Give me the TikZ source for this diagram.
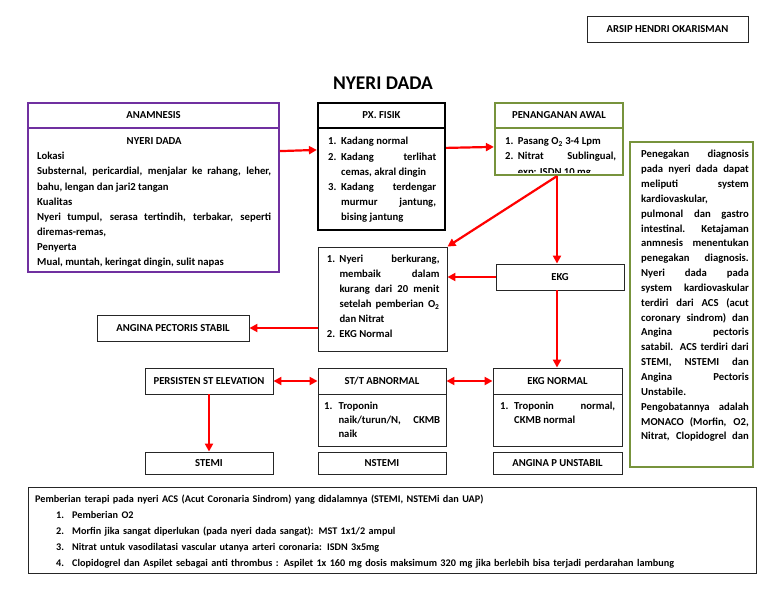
\documentclass[tikz,border=0pt]{standalone}
\usepackage{fontspec}
\setmainfont{Carlito}
\usetikzlibrary{arrows.meta}
\definecolor{purp}{HTML}{7030A0}
\definecolor{grn}{HTML}{77933C}
\definecolor{arred}{HTML}{FF0000}
\setlength{\parindent}{0pt}
\newcommand\bodyfont{\fontsize{10.67}{15.1}\selectfont\bfseries}
\newcommand\infofont{\fontsize{10.67}{14.85}\selectfont\bfseries}
\newcommand\tightfont{\fontsize{10.67}{14.3}\selectfont\bfseries}
\newcommand\botfont{\fontsize{10.2}{16}\selectfont\bfseries}
\newcommand\nitem[2]{\par\noindent\hangindent=#1\hangafter=1\makebox[#1][l]{\strut#2}}
\begin{document}
\begin{tikzpicture}[x=1pt,y=-1pt,
  box/.style={draw=black!85, line width=0.9pt, inner sep=0pt, font=\bodyfont, align=center},
  pbox/.style={draw=purp, line width=1.8pt, inner sep=0pt, font=\bodyfont, align=center},
  kbox/.style={draw=black, line width=2.2pt, inner sep=0pt, font=\bodyfont, align=center},
  gbox/.style={draw=grn, line width=2.2pt, inner sep=0pt, font=\bodyfont, align=center},
  txt/.style={inner sep=0pt, font=\bodyfont, align=justify, anchor=north west},
  arr/.style={draw=arred, line width=2.2pt, -{Triangle[length=8pt,width=8pt]}},
  darr/.style={draw=arred, line width=2.2pt, {Triangle[length=8pt,width=8pt]}-{Triangle[length=8pt,width=8pt]}}]
\useasboundingbox[fill=white] (0,0) rectangle (768,594);

% top label and title
\node[box, minimum width=161pt, minimum height=26pt] (arsip) at (667.5,29) {ARSIP HENDRI OKARISMAN};
\node[font=\fontsize{19.4}{23}\selectfont\bfseries, anchor=base, inner sep=0pt] (title) at (383,89) {NYERI DADA};

% anamnesis
\node[pbox, minimum width=251pt, minimum height=25pt] (anamH) at (153.5,115.5) {ANAMNESIS};
\node[pbox, minimum width=251pt, minimum height=144pt] (anamB) at (153.5,200) {};
\node[txt, text width=234pt] (anamT) at (37,134) {\strut\makebox[\linewidth]{NYERI DADA}\par
Lokasi\par
Substernal, pericardial, menjalar ke rahang, leher,\linebreak bahu, lengan dan jari2 tangan\par
Kualitas\par
Nyeri tumpul, serasa tertindih, terbakar, seperti\linebreak diremas-remas,\par
Penyerta\par
Mual, muntah, keringat dingin, sulit napas\par};

% px fisik
\node[kbox, minimum width=127pt, minimum height=25pt] (pxH) at (381.5,115.5) {PX. FISIK};
\node[kbox, minimum width=127pt, minimum height=102pt] (pxB) at (381.5,179) {};
\node[txt, text width=108pt] (pxT) at (328,129.6) {\nitem{13pt}{1.}Kadang normal
\nitem{13pt}{2.}Kadang terlihat\linebreak cemas, akral dingin
\nitem{13pt}{3.}Kadang terdengar\linebreak murmur jantung,\linebreak bising jantung\par};

% penanganan awal
\node[gbox, minimum width=128pt, minimum height=25pt] (penH) at (559,115.5) {PENANGANAN AWAL};
\begin{scope}
\clip (496,129) rectangle (622,172.5);
\node[txt, text width=111pt] (penT) at (505,129.5) {\nitem{12.7pt}{1.}Pasang O\textsubscript{2} 3-4 Lpm
\nitem{12.7pt}{2.}Nitrat Sublingual,\linebreak exp: ISDN 10 mg\par};
\end{scope}
\node[gbox, minimum width=128pt, minimum height=47pt] (penB) at (559,151.5) {};

% info box
\node[gbox, minimum width=123pt, minimum height=325pt] (info) at (691.5,304.5) {};
\node[txt, font=\infofont, text width=107.6pt] (infoT) at (641,147.2) {\strut Penegakan diagnosis\linebreak
pada nyeri dada dapat\linebreak
meliputi system\linebreak
kardiovaskular,\newline
pulmonal dan gastro\linebreak
intestinal. Ketajaman\linebreak
anmnesis menentukan\linebreak
penegakan diagnosis.\linebreak
Nyeri dada pada\linebreak
system kardiovaskular\linebreak
terdiri dari ACS (acut\linebreak
coronary sindrom) dan\linebreak
Angina pectoris\linebreak
satabil. ACS terdiri dari\linebreak
STEMI, NSTEMI dan\linebreak
Angina Pectoris\linebreak
Unstabile.\par
Pengobatannya adalah\linebreak
MONACO (Morfin, O2,\linebreak
Nitrat, Clopidogrel dan{\parfillskip=0pt\par}};

% nyeri berkurang
\node[box, minimum width=129pt, minimum height=104pt] (nyeri) at (382.5,299) {};
\node[txt, text width=112.6pt] (nyeriT) at (326.7,246.9) {\nitem{12.6pt}{1.}Nyeri berkurang,\linebreak membaik dalam\linebreak kurang dari 20 menit\linebreak setelah pemberian O\textsubscript{2}\linebreak dan Nitrat
\nitem{12.6pt}{2.}EKG Normal\par};

% EKG
\node[box, minimum width=128pt, minimum height=26pt] (ekg) at (560,277) {EKG};

% angina pectoris stabil
\node[box, minimum width=152pt, minimum height=26pt] (aps) at (173,328) {ANGINA PECTORIS STABIL};

% row of three
\node[box, minimum width=128pt, minimum height=26pt] (pers) at (209,381) {PERSISTEN ST ELEVATION};
\node[box, minimum width=128pt, minimum height=26pt] (stH) at (382,381) {ST/T ABNORMAL};
\node[box, minimum width=128pt, minimum height=52pt] (stB) at (382,420) {};
\node[txt, font=\tightfont, text width=116pt] (stT) at (324,394.5) {\nitem{14.3pt}{1.}Troponin\newline naik/turun/N, CKMB\linebreak naik\par};
\node[box, minimum width=129pt, minimum height=26pt] (enH) at (557.5,381) {EKG NORMAL};
\node[box, minimum width=129pt, minimum height=52pt] (enB) at (557.5,420) {};
\node[txt, font=\tightfont, text width=115pt] (enT) at (500,394.5) {\nitem{14pt}{1.}Troponin normal,\linebreak CKMB normal\par};

% results
\node[box, minimum width=128pt, minimum height=22pt] (stemi) at (209,463) {STEMI};
\node[box, minimum width=128pt, minimum height=22pt] (nstemi) at (382,463) {NSTEMI};
\node[box, minimum width=129pt, minimum height=22pt] (apu) at (557.5,463) {ANGINA P UNSTABIL};

% bottom box
\node[box, minimum width=728pt, minimum height=86pt] (bot) at (392,530) {};
\node[txt, font=\botfont, text width=715pt, align=left] (botT) at (35,490.8) {\strut Pemberian terapi pada nyeri ACS (Acut Coronaria Sindrom) yang didalamnya (STEMI, NSTEMi dan UAP)\par
\hspace*{21pt}\makebox[16pt][l]{1.}Pemberian O2\par
\hspace*{21pt}\makebox[16pt][l]{2.}Morfin jika sangat diperlukan (pada nyeri dada sangat): MST 1x1/2 ampul\par
\hspace*{21pt}\makebox[16pt][l]{3.}Nitrat untuk vasodilatasi vascular utanya arteri coronaria: ISDN 3x5mg\par
\hspace*{21pt}\makebox[16pt][l]{4.}Clopidogrel dan Aspilet sebagai anti thrombus : Aspilet 1x 160 mg dosis maksimum 320 mg jika berlebih bisa terjadi perdarahan lambung\par};

% connectors
\coordinate (split) at ([xshift=-2pt]penB.south);
\draw[arr] ([yshift=-24pt]anamB.north east) -- ([yshift=-23pt]pxB.north west);
\draw[arr] ([yshift=-21pt]pxB.north east) -- ([yshift=-20pt]penB.north west);
\draw[arr] (split) -- (split |- ekg.north);
\draw[arr] (split) -- (nyeri.north east);
\draw[arr] (ekg.west) -- (ekg.west -| nyeri.east);
\draw[arr] (nyeri.west |- aps.east) -- (aps.east);
\draw[arr] (split |- ekg.south) -- (split |- enH.north);
\draw[darr] (pers.east) -- (stH.west);
\draw[darr] (stH.east) -- (enH.west);
\draw[arr] (pers.south) -- (stemi.north);
\end{tikzpicture}
\end{document}
